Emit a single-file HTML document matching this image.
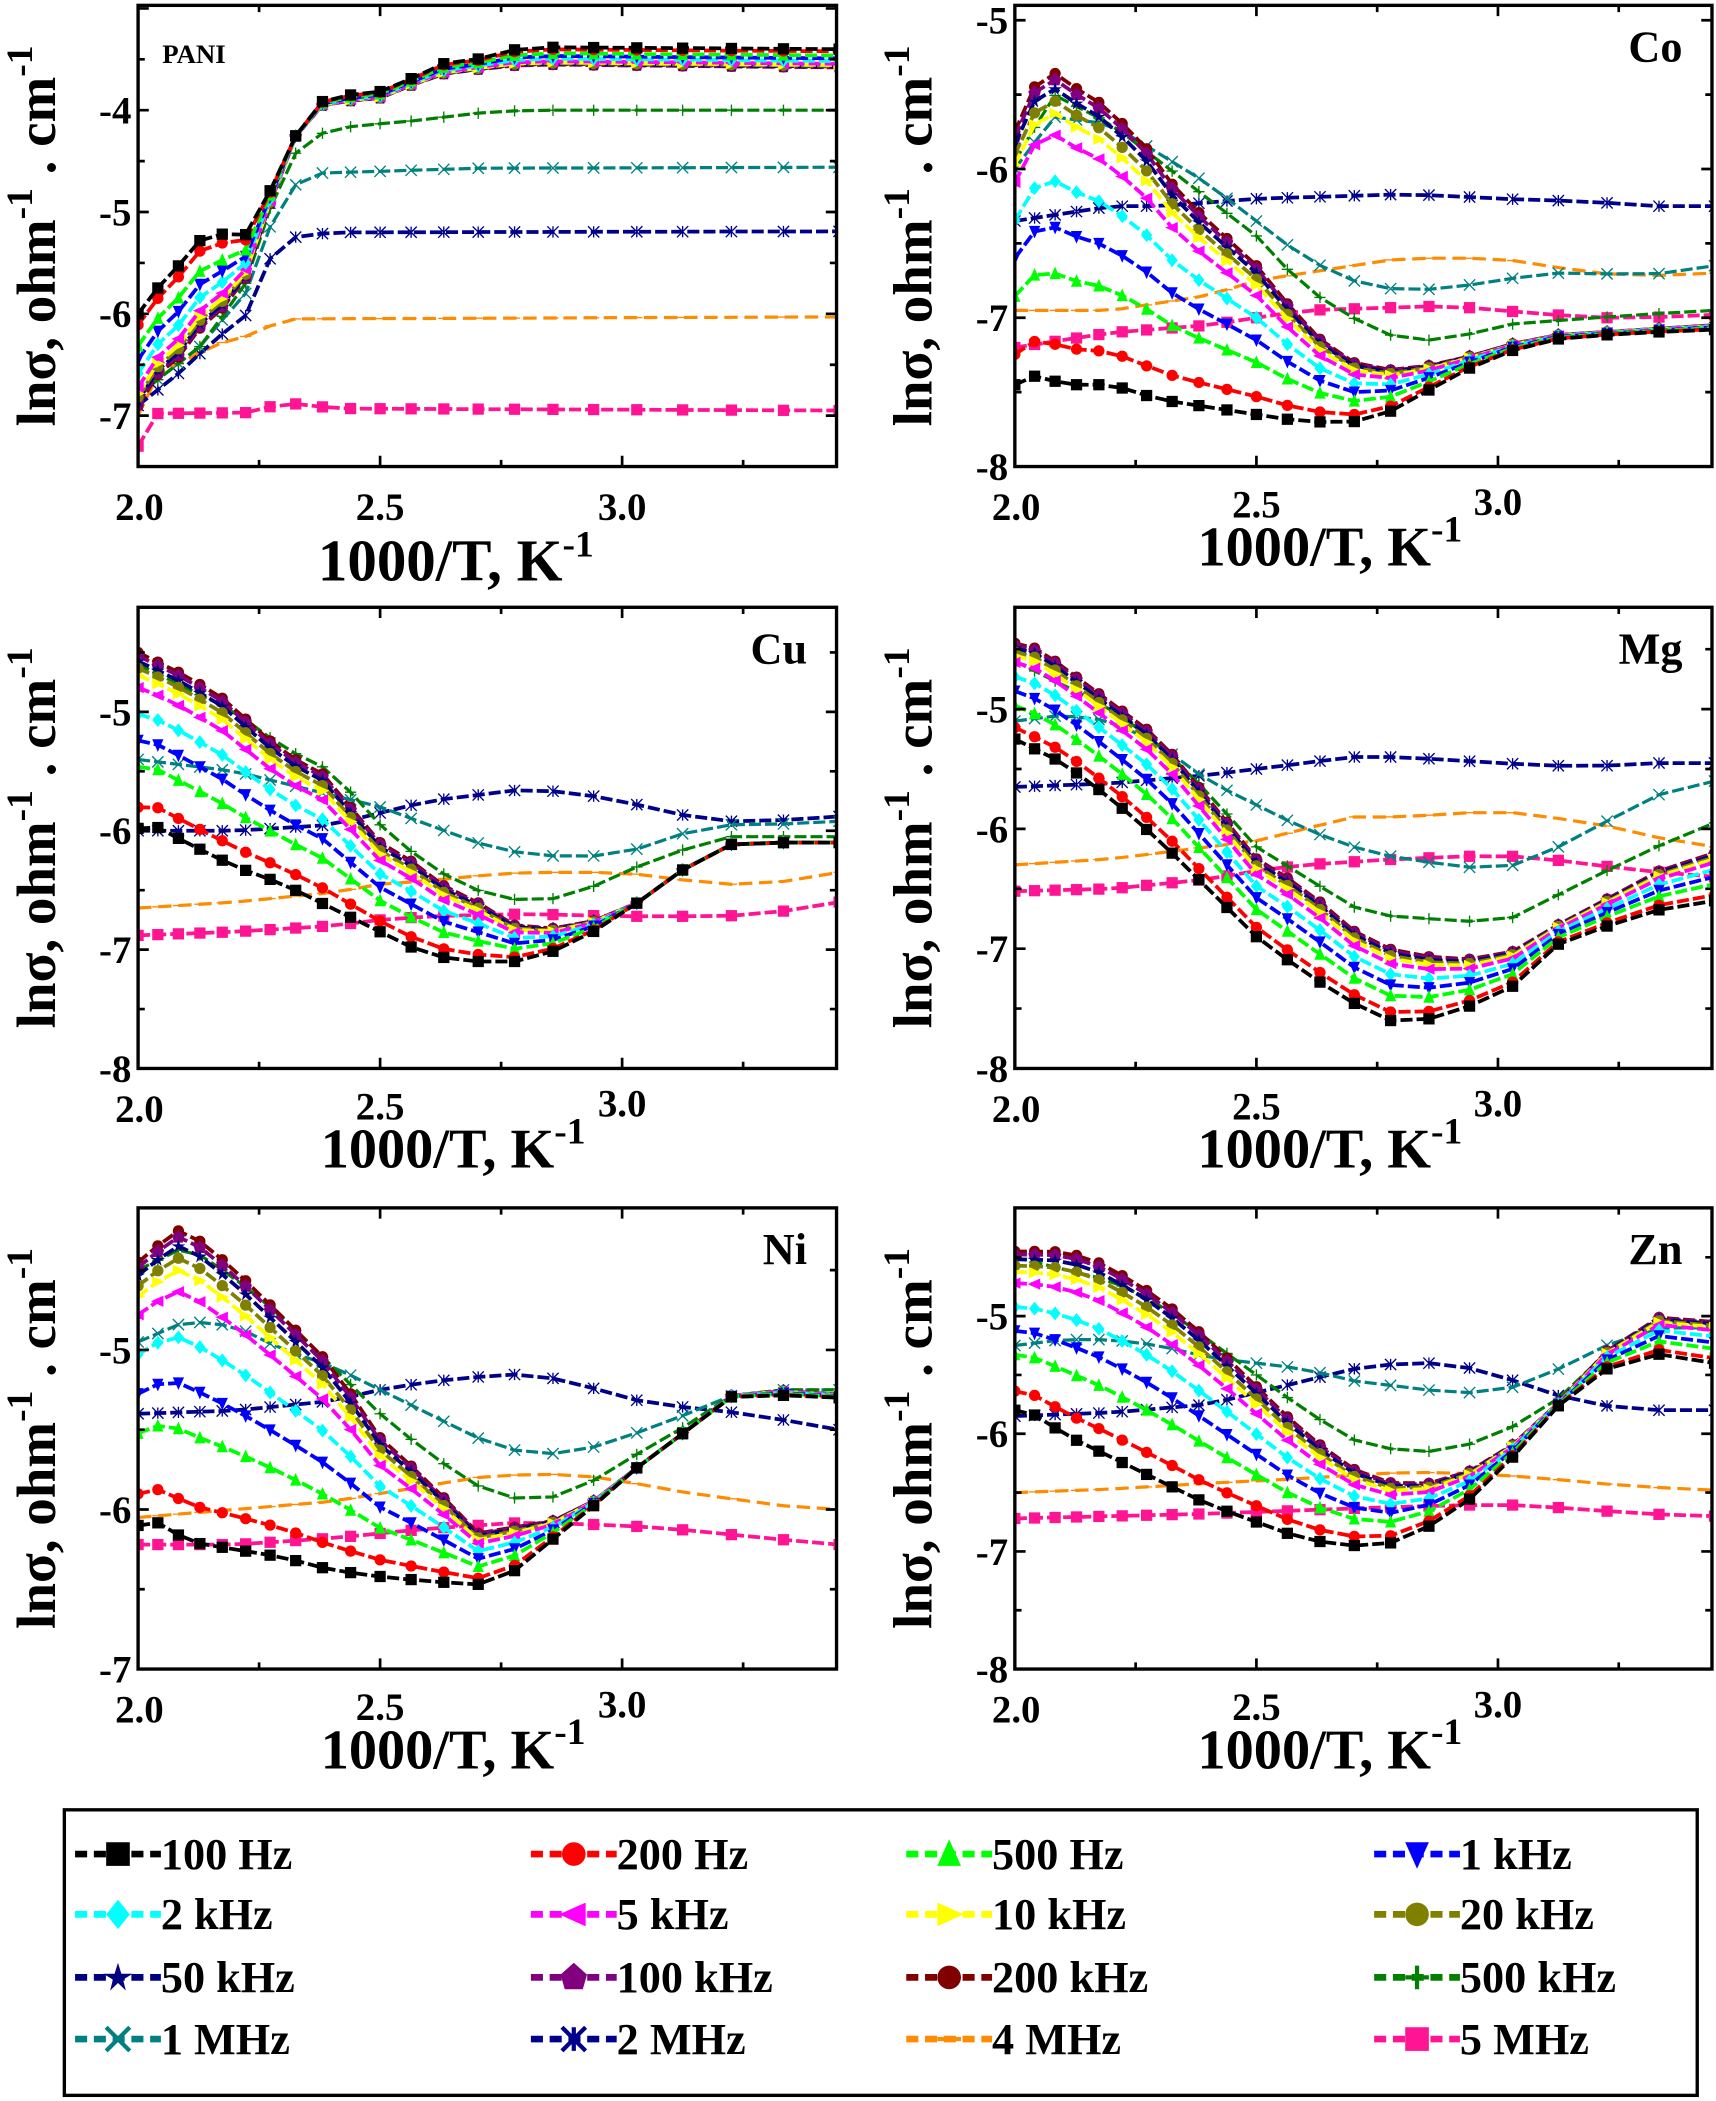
<!DOCTYPE html>
<html><head><meta charset="utf-8">
<style>
html,body{margin:0;padding:0;background:#fff;}
svg{display:block;}
text{font-family:"Liberation Serif",serif;font-weight:bold;fill:#000;}
</style></head>
<body>
<svg id="s" width="1716" height="2101" viewBox="0 0 1280 1567.2" preserveAspectRatio="none" xmlns="http://www.w3.org/2000/svg"></svg>
<script>
const S=document.getElementById('s');
let out='';
const colors=['#000','#f00','#0f0','#00f','#0ff','#f0f','#ff0','#808000','#000080','#800080','#800000','#008000','#008080','#00008b','#ff8c00','#ff1493'];
const fr=[0,.12,.35,.5,.65,.8,.87,.91,.95,.98,1];
const xs=[];for(let T=500;T>=290;T-=10)xs.push(1000/T);
function interp(pts,x){if(x<=pts[0][0])return pts[0][1];for(let i=1;i<pts.length;i++){if(x<=pts[i][0]){const a=pts[i-1],b=pts[i];return a[1]+(b[1]-a[1])*(x-a[0])/(b[0]-a[0]);}}return pts[pts.length-1][1];}
function marker(i,x,y,c){const r=4.2;
switch(i){
case 0:case 15:return `<rect x="${x-r}" y="${y-r}" width="${2*r}" height="${2*r}" fill="${c}"/>`;
case 1:case 10:return `<circle cx="${x}" cy="${y}" r="${r}" fill="${c}"/>`;
case 7:return `<circle cx="${x}" cy="${y}" r="${r}" fill="${c}"/>`;
case 2:return `<polygon points="${x},${y-r-1} ${x+r},${y+r} ${x-r},${y+r}" fill="${c}"/>`;
case 3:return `<polygon points="${x},${y+r+1} ${x+r},${y-r} ${x-r},${y-r}" fill="${c}"/>`;
case 4:return `<polygon points="${x},${y-r-1} ${x+r},${y} ${x},${y+r+1} ${x-r},${y}" fill="${c}"/>`;
case 5:return `<polygon points="${x-r-1},${y} ${x+r},${y-r} ${x+r},${y+r}" fill="${c}"/>`;
case 6:return `<polygon points="${x+r+1},${y} ${x-r},${y-r} ${x-r},${y+r}" fill="${c}"/>`;
case 8:return `<polygon points="${x},${y-r-1} ${x+1.2},${y-1.3} ${x+r+1},${y-1.3} ${x+1.8},${y+.8} ${x+2.8},${y+r+.5} ${x},${y+2} ${x-2.8},${y+r+.5} ${x-1.8},${y+.8} ${x-r-1},${y-1.3} ${x-1.2},${y-1.3}" fill="${c}"/>`;
case 9:return `<polygon points="${x},${y-r-1} ${x+r+.5},${y-1} ${x+r-1},${y+r} ${x-r+1},${y+r} ${x-r-.5},${y-1}" fill="${c}"/>`;
case 11:return `<path d="M${x-r} ${y}H${x+r}M${x} ${y-r}V${y+r}" stroke="${c}" stroke-width="1"/>`;
case 12:return `<path d="M${x-r} ${y-r}L${x+r} ${y+r}M${x+r} ${y-r}L${x-r} ${y+r}" stroke="${c}" stroke-width="1"/>`;
case 13:return `<path d="M${x-r} ${y-r}L${x+r} ${y+r}M${x+r} ${y-r}L${x-r} ${y+r}M${x} ${y-r}V${y+r}" stroke="${c}" stroke-width="1"/>`;
case 14:return `<path d="M${x-r} ${y}H${x+r}" stroke="${c}" stroke-width="1"/>`;
}}
function panel(p){
 const {x0,x1,y0,y1,ytop,ybot,title,L,H,ex,yt}=p;
 const X=v=>x0+(v-2)*(x1-x0)/(3.443-2), Y=v=>y0+(ytop-v)*(y1-y0)/(ytop-ybot);
 out+=`<clipPath id="c${title}"><rect x="${x0}" y="${y0}" width="${x1-x0}" height="${y1-y0}"/></clipPath><g clip-path="url(#c${title})">`;
 const series=[];
 for(let i=0;i<=10;i++){series.push(xs.map(x=>{const l=interp(L,x),h=interp(H,x);return [x,l+(h-l)*fr[i]];}));}
 ex.forEach(e=>series.push(xs.map(x=>[x,interp(e,x)])));
 for(let i=15;i>=0;i--){const c=colors[i];const pts=series[i].map(q=>X(q[0]).toFixed(1)+','+Y(q[1]).toFixed(1)).join(' ');
  const w=(i==14||i==11||i==12)?2.4:2.8;
  out+=`<polyline points="${pts}" fill="none" stroke="${c}" stroke-width="${w}" stroke-dasharray="${i==14?'10,5':'9,3'}"/>`;
  series[i].forEach(q=>out+=marker(i,X(q[0]),Y(q[1]),c));}
 out+='</g>';
 out+=`<rect x="${x0}" y="${y0}" width="${x1-x0}" height="${y1-y0}" fill="none" stroke="#000" stroke-width="2.5"/>`;
 for(let v=2;v<3.45;v+=0.25){const xx=X(v),maj=Math.abs(v*2-Math.round(v*2))<1e-6;const l=maj?8:5;
  out+=`<path d="M${xx} ${y1}v${-l}M${xx} ${y0}v${l}" stroke="#000" stroke-width="2"/>`;}
 for(let v=Math.ceil(ybot*2)/2;v<=ytop;v+=0.5){const yy=Y(v),maj=Math.abs(v-Math.round(v))<1e-6;const l=maj?8:5;
  out+=`<path d="M${x0} ${yy}h${l}M${x1} ${yy}h${-l}" stroke="#000" stroke-width="2"/>`;}
 yt.forEach(v=>out+=`<text x="${x0-5}" y="${Y(v)+10}" font-size="29" text-anchor="end">${v}</text>`);
 out+=`<text x="${X(2)+1}" y="${y1+40}" font-size="29" text-anchor="middle">2.0</text>`;
 out+=`<text x="${X(2.5)}" y="${y1+(p.pani?40:38)}" font-size="29" text-anchor="middle">2.5</text>`;
 out+=`<text x="${X(3.0)}" y="${y1+(p.pani?40:36)}" font-size="29" text-anchor="middle">3.0</text>`;
 const xt=p.pani?{x:340,y:y1+85}:{x:x0+235,y:y1+74};
 out+=`<text x="${xt.x}" y="${xt.y}" font-size="${p.pani?44:42}" text-anchor="middle">1000/T, K<tspan font-size="28" dy="-18">-1</tspan></text>`;
 const lx=x0-62, ly=(y0+y1)/2;
 out+=`<text transform="translate(${lx} ${ly}) rotate(-90)" font-size="41" text-anchor="middle">lnσ, ohm<tspan font-size="28" dy="-17">-1</tspan><tspan dy="17"> . cm</tspan><tspan font-size="28" dy="-17">-1</tspan></text>`;
 if(p.pani) out+=`<text x="${x0+18}" y="${y0+43}" font-size="20">PANI</text>`;
 else out+=`<text x="${x1-22}" y="${y0+42}" font-size="33" text-anchor="end">${title}</text>`;
}
const P=[];
P.push({pani:1,title:'PANI',x0:103,x1:624,y0:4,y1:348,ytop:-2.97,ybot:-7.5,yt:[-4,-5,-6,-7],
L:[[2,-6],[2.04,-5.75],[2.08,-5.55],[2.12,-5.3],[2.16,-5.2],[2.2,-5.25],[2.24,-5.2],[2.28,-4.7],[2.32,-4.3],[2.36,-3.95],[2.42,-3.85],[2.48,-3.85],[2.54,-3.75],[2.62,-3.55],[2.7,-3.5],[2.8,-3.38],[3.44,-3.4]],
H:[[2,-6.9],[2.04,-6.6],[2.08,-6.45],[2.12,-6.15],[2.16,-6.1],[2.2,-5.65],[2.24,-5.65],[2.28,-4.75],[2.32,-4.3],[2.36,-3.98],[2.42,-3.9],[2.48,-3.92],[2.54,-3.8],[2.62,-3.65],[2.7,-3.6],[2.8,-3.55],[3.44,-3.58]],
ex:[[[2,-6.8],[2.08,-6.5],[2.16,-6.2],[2.2,-5.7],[2.24,-5.7],[2.28,-4.8],[2.32,-4.45],[2.36,-4.25],[2.45,-4.15],[2.54,-4.12],[2.7,-4.03],[2.8,-4],[3.44,-4]],
[[2,-6.8],[2.08,-6.5],[2.16,-6.2],[2.2,-5.8],[2.24,-5.8],[2.28,-5],[2.32,-4.75],[2.36,-4.62],[2.5,-4.6],[2.7,-4.57],[3.44,-4.56]],
[[2,-6.9],[2.08,-6.6],[2.16,-6.25],[2.24,-5.95],[2.28,-5.35],[2.32,-5.25],[2.4,-5.2],[3.44,-5.19]],
[[2,-7],[2.04,-6.6],[2.08,-6.5],[2.16,-6.3],[2.24,-6.2],[2.28,-6.1],[2.32,-6.05],[3.44,-6.03]],
[[2,-7.3],[2.02,-6.98],[2.24,-6.97],[2.28,-6.9],[2.34,-6.88],[2.4,-6.93],[3.44,-6.95]]]});
P.push({title:'Co',x0:757,x1:1277,y0:4,y1:348,ytop:-4.9,ybot:-8,yt:[-5,-6,-7,-8],
L:[[2,-7.45],[2.05,-7.38],[2.1,-7.45],[2.2,-7.45],[2.3,-7.55],[2.4,-7.6],[2.5,-7.65],[2.6,-7.7],[2.7,-7.7],[2.76,-7.65],[2.8,-7.6],[2.9,-7.4],[3,-7.25],[3.1,-7.15],[3.2,-7.12],[3.3,-7.1],[3.44,-7.08]],
H:[[2,-5.75],[2.04,-5.45],[2.08,-5.35],[2.12,-5.45],[2.16,-5.5],[2.2,-5.65],[2.25,-5.75],[2.3,-6],[2.35,-6.2],[2.4,-6.35],[2.45,-6.5],[2.5,-6.65],[2.55,-6.85],[2.6,-7.05],[2.65,-7.2],[2.7,-7.3],[2.76,-7.35],[2.8,-7.35],[2.9,-7.3],[3,-7.2],[3.1,-7.12],[3.2,-7.1],[3.3,-7.08],[3.44,-7.05]],
ex:[[[2,-5.95],[2.08,-5.5],[2.2,-5.7],[2.3,-5.95],[2.4,-6.2],[2.5,-6.45],[2.6,-6.8],[2.7,-7],[2.8,-7.15],[2.9,-7.15],[3,-7.05],[3.2,-7],[3.44,-6.95]],
[[2,-6],[2.08,-5.65],[2.2,-5.7],[2.3,-5.9],[2.4,-6.1],[2.5,-6.35],[2.6,-6.6],[2.7,-6.75],[2.8,-6.82],[2.9,-6.8],[3,-6.75],[3.1,-6.7],[3.2,-6.7],[3.3,-6.72],[3.44,-6.65]],
[[2,-6.35],[2.1,-6.3],[2.2,-6.25],[2.3,-6.25],[2.5,-6.2],[2.7,-6.18],[2.8,-6.17],[2.9,-6.18],[3,-6.2],[3.2,-6.22],[3.3,-6.25],[3.44,-6.25]],
[[2,-6.95],[2.2,-6.95],[2.4,-6.85],[2.5,-6.75],[2.6,-6.7],[2.7,-6.65],[2.8,-6.6],[3,-6.6],[3.2,-6.7],[3.3,-6.72],[3.44,-6.7]],
[[2,-7.2],[2.1,-7.15],[2.2,-7.1],[2.4,-7.05],[2.5,-7],[2.6,-6.95],[2.8,-6.93],[2.9,-6.92],[3,-6.95],[3.2,-7],[3.3,-7],[3.44,-6.98]]]});
P.push({title:'Cu',x0:103,x1:624,y0:453,y1:797,ytop:-4.12,ybot:-8,yt:[-5,-6,-7,-8],
L:[[2,-5.98],[2.03,-5.95],[2.1,-6.1],[2.2,-6.3],[2.3,-6.45],[2.4,-6.65],[2.5,-6.85],[2.55,-6.95],[2.6,-7.05],[2.7,-7.1],[2.8,-7.1],[2.9,-6.95],[3,-6.7],[3.1,-6.4],[3.2,-6.12],[3.3,-6.1],[3.44,-6.1]],
H:[[2,-4.5],[2.05,-4.6],[2.1,-4.7],[2.2,-4.95],[2.25,-5.2],[2.3,-5.3],[2.35,-5.5],[2.42,-5.55],[2.45,-5.95],[2.5,-6.1],[2.55,-6.2],[2.6,-6.4],[2.7,-6.6],[2.8,-6.85],[2.9,-6.8],[3,-6.7],[3.1,-6.4],[3.2,-6.12],[3.3,-6.1],[3.44,-6.1]],
ex:[[[2,-4.6],[2.2,-5],[2.3,-5.3],[2.4,-5.5],[2.5,-5.95],[2.6,-6.3],[2.7,-6.5],[2.8,-6.6],[2.9,-6.55],[3,-6.35],[3.1,-6.2],[3.2,-6.05],[3.44,-6.05]],
[[2,-5.4],[2.1,-5.45],[2.2,-5.5],[2.3,-5.6],[2.4,-5.7],[2.5,-5.8],[2.6,-5.95],[2.7,-6.1],[2.8,-6.2],[2.9,-6.22],[3,-6.2],[3.1,-6.05],[3.2,-5.95],[3.3,-5.95],[3.44,-5.92]],
[[2,-6],[2.2,-6],[2.4,-5.95],[2.5,-5.85],[2.6,-5.75],[2.7,-5.7],[2.8,-5.65],[2.9,-5.68],[3,-5.75],[3.1,-5.85],[3.2,-5.92],[3.3,-5.92],[3.44,-5.88]],
[[2,-6.65],[2.2,-6.6],[2.4,-6.52],[2.5,-6.45],[2.6,-6.42],[2.7,-6.38],[2.8,-6.35],[3,-6.35],[3.1,-6.4],[3.2,-6.45],[3.3,-6.45],[3.44,-6.35]],
[[2,-6.88],[2.2,-6.85],[2.4,-6.8],[2.5,-6.75],[2.6,-6.72],[2.8,-6.7],[3,-6.72],[3.2,-6.72],[3.3,-6.7],[3.44,-6.6]]]});
P.push({title:'Mg',x0:757,x1:1277,y0:453,y1:797,ytop:-4.15,ybot:-8,yt:[-5,-6,-7,-8],
L:[[2,-5.25],[2.1,-5.45],[2.2,-5.75],[2.3,-6.1],[2.4,-6.5],[2.5,-6.9],[2.6,-7.2],[2.7,-7.45],[2.76,-7.6],[2.85,-7.6],[2.9,-7.5],[3,-7.45],[3.1,-7],[3.2,-6.85],[3.3,-6.7],[3.44,-6.6]],
H:[[2,-4.45],[2.05,-4.5],[2.1,-4.65],[2.2,-4.95],[2.3,-5.25],[2.4,-5.75],[2.5,-6.25],[2.6,-6.5],[2.7,-6.85],[2.8,-7.05],[2.9,-7.08],[3,-7.1],[3.1,-6.85],[3.2,-6.65],[3.3,-6.4],[3.44,-6.2]],
ex:[[[2,-4.6],[2.2,-5],[2.3,-5.3],[2.4,-5.7],[2.5,-6.15],[2.6,-6.4],[2.7,-6.65],[2.8,-6.75],[2.9,-6.75],[3,-6.8],[3.1,-6.6],[3.2,-6.4],[3.3,-6.2],[3.44,-5.95]],
[[2,-5.1],[2.1,-5.05],[2.2,-5.1],[2.3,-5.3],[2.4,-5.6],[2.5,-5.8],[2.6,-6],[2.7,-6.15],[2.8,-6.25],[2.9,-6.3],[3,-6.35],[3.1,-6.2],[3.2,-6],[3.3,-5.75],[3.44,-5.6]],
[[2,-5.65],[2.2,-5.62],[2.4,-5.55],[2.5,-5.5],[2.6,-5.45],[2.7,-5.4],[2.8,-5.4],[3,-5.45],[3.1,-5.47],[3.2,-5.48],[3.3,-5.45],[3.44,-5.45]],
[[2,-6.3],[2.2,-6.25],[2.4,-6.15],[2.5,-6.1],[2.6,-6],[2.7,-5.9],[2.8,-5.9],[3,-5.85],[3.1,-5.9],[3.2,-5.95],[3.3,-6.05],[3.44,-6.15]],
[[2,-6.52],[2.2,-6.5],[2.4,-6.42],[2.5,-6.35],[2.6,-6.3],[2.8,-6.25],[3,-6.22],[3.1,-6.25],[3.2,-6.3],[3.3,-6.35],[3.44,-6.4]]]});
P.push({title:'Ni',x0:103,x1:624,y0:901,y1:1245,ytop:-4.11,ybot:-7,yt:[-5,-6,-7],
L:[[2,-6.1],[2.05,-6.08],[2.1,-6.2],[2.2,-6.25],[2.3,-6.3],[2.4,-6.38],[2.5,-6.42],[2.6,-6.45],[2.7,-6.47],[2.76,-6.45],[2.8,-6.3],[2.9,-6.1],[3,-5.8],[3.1,-5.6],[3.2,-5.3],[3.3,-5.28],[3.44,-5.3]],
H:[[2,-4.45],[2.04,-4.35],[2.08,-4.25],[2.12,-4.3],[2.2,-4.5],[2.3,-4.8],[2.4,-5.1],[2.5,-5.55],[2.55,-5.7],[2.6,-5.8],[2.65,-6],[2.7,-6.15],[2.8,-6.1],[2.9,-6.05],[3,-5.8],[3.1,-5.6],[3.2,-5.3],[3.3,-5.25],[3.44,-5.28]],
ex:[[[2,-4.5],[2.1,-4.35],[2.2,-4.55],[2.3,-4.8],[2.4,-5.1],[2.5,-5.4],[2.6,-5.65],[2.7,-5.85],[2.8,-5.95],[2.9,-5.9],[3,-5.7],[3.1,-5.55],[3.2,-5.3],[3.3,-5.25],[3.44,-5.25]],
[[2,-4.95],[2.1,-4.82],[2.2,-4.85],[2.3,-5],[2.4,-5.1],[2.5,-5.25],[2.6,-5.4],[2.7,-5.55],[2.8,-5.65],[2.9,-5.65],[3,-5.55],[3.1,-5.45],[3.2,-5.3],[3.3,-5.25],[3.44,-5.25]],
[[2,-5.4],[2.2,-5.38],[2.4,-5.32],[2.5,-5.25],[2.6,-5.2],[2.7,-5.17],[2.8,-5.15],[2.9,-5.2],[3,-5.3],[3.1,-5.35],[3.2,-5.38],[3.3,-5.42],[3.44,-5.5]],
[[2,-6.05],[2.2,-6],[2.4,-5.95],[2.6,-5.85],[2.7,-5.8],[2.8,-5.78],[2.9,-5.78],[3,-5.82],[3.1,-5.88],[3.2,-5.92],[3.3,-5.97],[3.44,-6]],
[[2,-6.22],[2.2,-6.22],[2.4,-6.18],[2.6,-6.12],[2.7,-6.1],[2.8,-6.08],[3,-6.1],[3.1,-6.12],[3.2,-6.15],[3.3,-6.18],[3.44,-6.22]]]});
P.push({title:'Zn',x0:757,x1:1277,y0:901,y1:1245,ytop:-4.08,ybot:-8,yt:[-5,-6,-7,-8],
L:[[2,-5.8],[2.05,-5.85],[2.1,-6],[2.2,-6.2],[2.3,-6.4],[2.4,-6.6],[2.5,-6.75],[2.6,-6.9],[2.7,-6.95],[2.76,-6.95],[2.8,-6.9],[2.9,-6.7],[3,-6.35],[3.1,-5.85],[3.2,-5.5],[3.3,-5.3],[3.44,-5.4]],
H:[[2,-4.45],[2.08,-4.45],[2.15,-4.5],[2.2,-4.6],[2.3,-4.85],[2.4,-5.2],[2.5,-5.6],[2.6,-6],[2.7,-6.3],[2.8,-6.45],[2.9,-6.4],[3,-6.2],[3.1,-5.85],[3.2,-5.4],[3.3,-5],[3.44,-5.05]],
ex:[[[2,-4.5],[2.2,-4.7],[2.3,-4.9],[2.4,-5.2],[2.5,-5.5],[2.6,-5.8],[2.7,-6.05],[2.8,-6.15],[2.9,-6.15],[3,-6],[3.1,-5.8],[3.2,-5.4],[3.3,-5.05],[3.44,-5.05]],
[[2,-5.25],[2.1,-5.2],[2.2,-5.2],[2.3,-5.25],[2.4,-5.35],[2.5,-5.4],[2.6,-5.45],[2.7,-5.55],[2.8,-5.6],[2.9,-5.65],[3,-5.65],[3.1,-5.5],[3.2,-5.3],[3.3,-5.1],[3.44,-5.1]],
[[2,-5.85],[2.2,-5.82],[2.4,-5.75],[2.5,-5.65],[2.6,-5.55],[2.7,-5.45],[2.8,-5.4],[2.9,-5.4],[3,-5.5],[3.1,-5.65],[3.2,-5.75],[3.3,-5.8],[3.44,-5.8]],
[[2,-6.5],[2.2,-6.47],[2.4,-6.42],[2.6,-6.38],[2.7,-6.35],[2.8,-6.33],[2.9,-6.33],[3,-6.35],[3.1,-6.38],[3.2,-6.42],[3.3,-6.45],[3.44,-6.48]],
[[2,-6.72],[2.2,-6.7],[2.4,-6.68],[2.6,-6.65],[2.8,-6.62],[3,-6.6],[3.1,-6.62],[3.2,-6.65],[3.3,-6.68],[3.44,-6.7]]]});
P.forEach(panel);
// legend
out+=`<rect x="48" y="1350" width="1218" height="213" fill="none" stroke="#000" stroke-width="2.5"/>`;
const names=['100 Hz','200 Hz','500 Hz','1 kHz','2 kHz','5 kHz','10 kHz','20 kHz','50 kHz','100 kHz','200 kHz','500 kHz','1 MHz','2 MHz','4 MHz','5 MHz'];
const cx=[88,428,708,1057],rows=[1383,1428,1475,1521];
for(let i=0;i<16;i++){const r=Math.floor(i/4),c=i%4;const x=cx[c],y=rows[r],col=colors[i];
 out+=`<path d="M${x-32} ${y}h64" stroke="${col}" stroke-width="5" stroke-dasharray="9,5"/>`;
 const m=marker(i,x,y,col).replace(/stroke-width="1"/,'stroke-width="1.5"');
 out+=`<g transform="translate(${x} ${y}) scale(2.1) translate(${-x} ${-y})">${m}</g>`;
 out+=`<text x="${x+32}" y="${y+11}" font-size="33">${names[i]}</text>`;}
S.innerHTML=out;
</script>
</body></html>
